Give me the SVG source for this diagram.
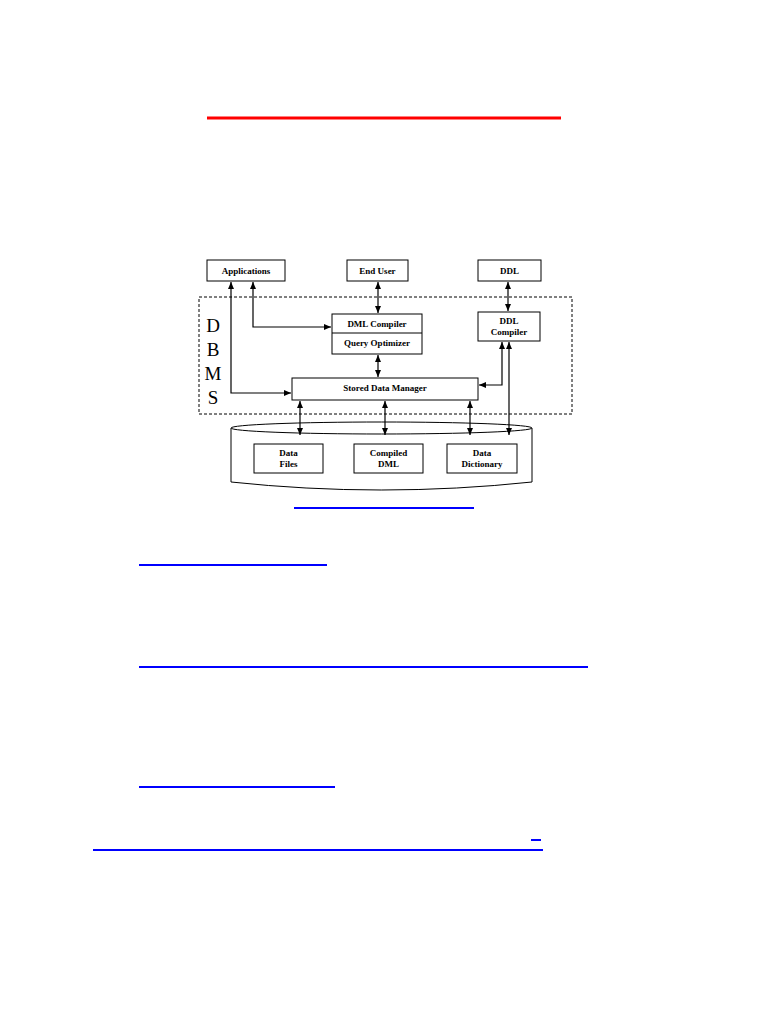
<svg xmlns="http://www.w3.org/2000/svg" width="768" height="1024" viewBox="0 0 768 1024">
<style>
.b{fill:#fff;stroke:#000;stroke-width:1}
.t{font-family:"Liberation Serif",serif;font-size:9px;font-weight:bold;text-anchor:middle}
.c{fill:none;stroke:#000;stroke-width:1.2}
.l{stroke:#00f;stroke-width:2}
</style>
<defs><marker id="a" markerWidth="8" markerHeight="8" refX="7" refY="4" orient="auto-start-reverse" markerUnits="userSpaceOnUse"><path d="M0,1 L7,4 L0,7z" fill="#000"/></marker></defs>
<rect width="768" height="1024" fill="#fff"/>
<line x1="207" y1="118" x2="561" y2="118" stroke="#f00" stroke-width="3"/>
<rect x="199" y="297" width="373" height="117" fill="none" stroke="#000" stroke-dasharray="3,2"/>
<g font-family="Liberation Serif,serif" font-size="19" text-anchor="middle"><text x="213" y="332">D</text><text x="213" y="356">B</text><text x="213" y="380">M</text><text x="213" y="404">S</text></g>
<g id="cyl"><path class="b" d="M231,428 L231,482 Q381,498 532,482 L532,428"/><ellipse class="b" cx="381.5" cy="428" rx="150.5" ry="6"/></g>
<g id="apps"><rect class="b" x="207" y="260" width="78" height="21"/><text class="t" x="246" y="274">Applications</text></g>
<g id="enduser"><rect class="b" x="347" y="260" width="61" height="21"/><text class="t" x="377.5" y="274">End User</text></g>
<g id="ddl"><rect class="b" x="478" y="260" width="63" height="21"/><text class="t" x="509.5" y="274">DDL</text></g>
<g id="dml"><rect class="b" x="332" y="314" width="90" height="40"/><line x1="332" y1="333" x2="422" y2="333" stroke="#000"/><text class="t" x="377" y="327">DML Compiler</text><text class="t" x="377" y="346">Query Optimizer</text></g>
<g id="ddlc"><rect class="b" x="478" y="312" width="62" height="29"/><text class="t" x="509" y="324">DDL</text><text class="t" x="509" y="335">Compiler</text></g>
<g id="sdm"><rect class="b" x="292" y="378" width="186" height="22"/><text class="t" x="385" y="391" font-size="8">Stored Data Manager</text></g>
<g id="files"><rect class="b" x="254" y="444" width="69" height="29"/><text class="t" x="288.5" y="456">Data</text><text class="t" x="288.5" y="467">Files</text></g>
<g id="cdml"><rect class="b" x="354" y="444" width="69" height="29"/><text class="t" x="388.5" y="456">Compiled</text><text class="t" x="388.5" y="467">DML</text></g>
<g id="dict"><rect class="b" x="447" y="444" width="70" height="29"/><text class="t" x="482" y="456">Data</text><text class="t" x="482" y="467">Dictionary</text></g>
<g id="connectors">
<path class="c" d="M231,282 V393 H291" marker-start="url(#a)" marker-end="url(#a)"/>
<path class="c" d="M253,282 V327 H331" marker-start="url(#a)" marker-end="url(#a)"/>
<path class="c" d="M378,282 V313" marker-start="url(#a)" marker-end="url(#a)"/>
<path class="c" d="M508,282 V311" marker-start="url(#a)" marker-end="url(#a)"/>
<path class="c" d="M378,355 V377" marker-start="url(#a)" marker-end="url(#a)"/>
<path class="c" d="M502,342 V385 H479" marker-start="url(#a)" marker-end="url(#a)"/>
<path class="c" d="M509,342 V435" marker-start="url(#a)" marker-end="url(#a)"/>
<path class="c" d="M300,401 V435" marker-start="url(#a)" marker-end="url(#a)"/>
<path class="c" d="M385,401 V435" marker-start="url(#a)" marker-end="url(#a)"/>
<path class="c" d="M470,401 V435" marker-start="url(#a)" marker-end="url(#a)"/>
</g>
<line class="l" x1="294" y1="508" x2="474" y2="508"/>
<line class="l" x1="139" y1="565" x2="327" y2="565"/>
<line class="l" x1="139" y1="667" x2="588" y2="667"/>
<line class="l" x1="139" y1="787" x2="335" y2="787" stroke-width="3"/>
<line class="l" x1="531" y1="840" x2="541" y2="840" stroke-width="1.5"/>
<line class="l" x1="93" y1="850" x2="543" y2="850"/>
</svg>
